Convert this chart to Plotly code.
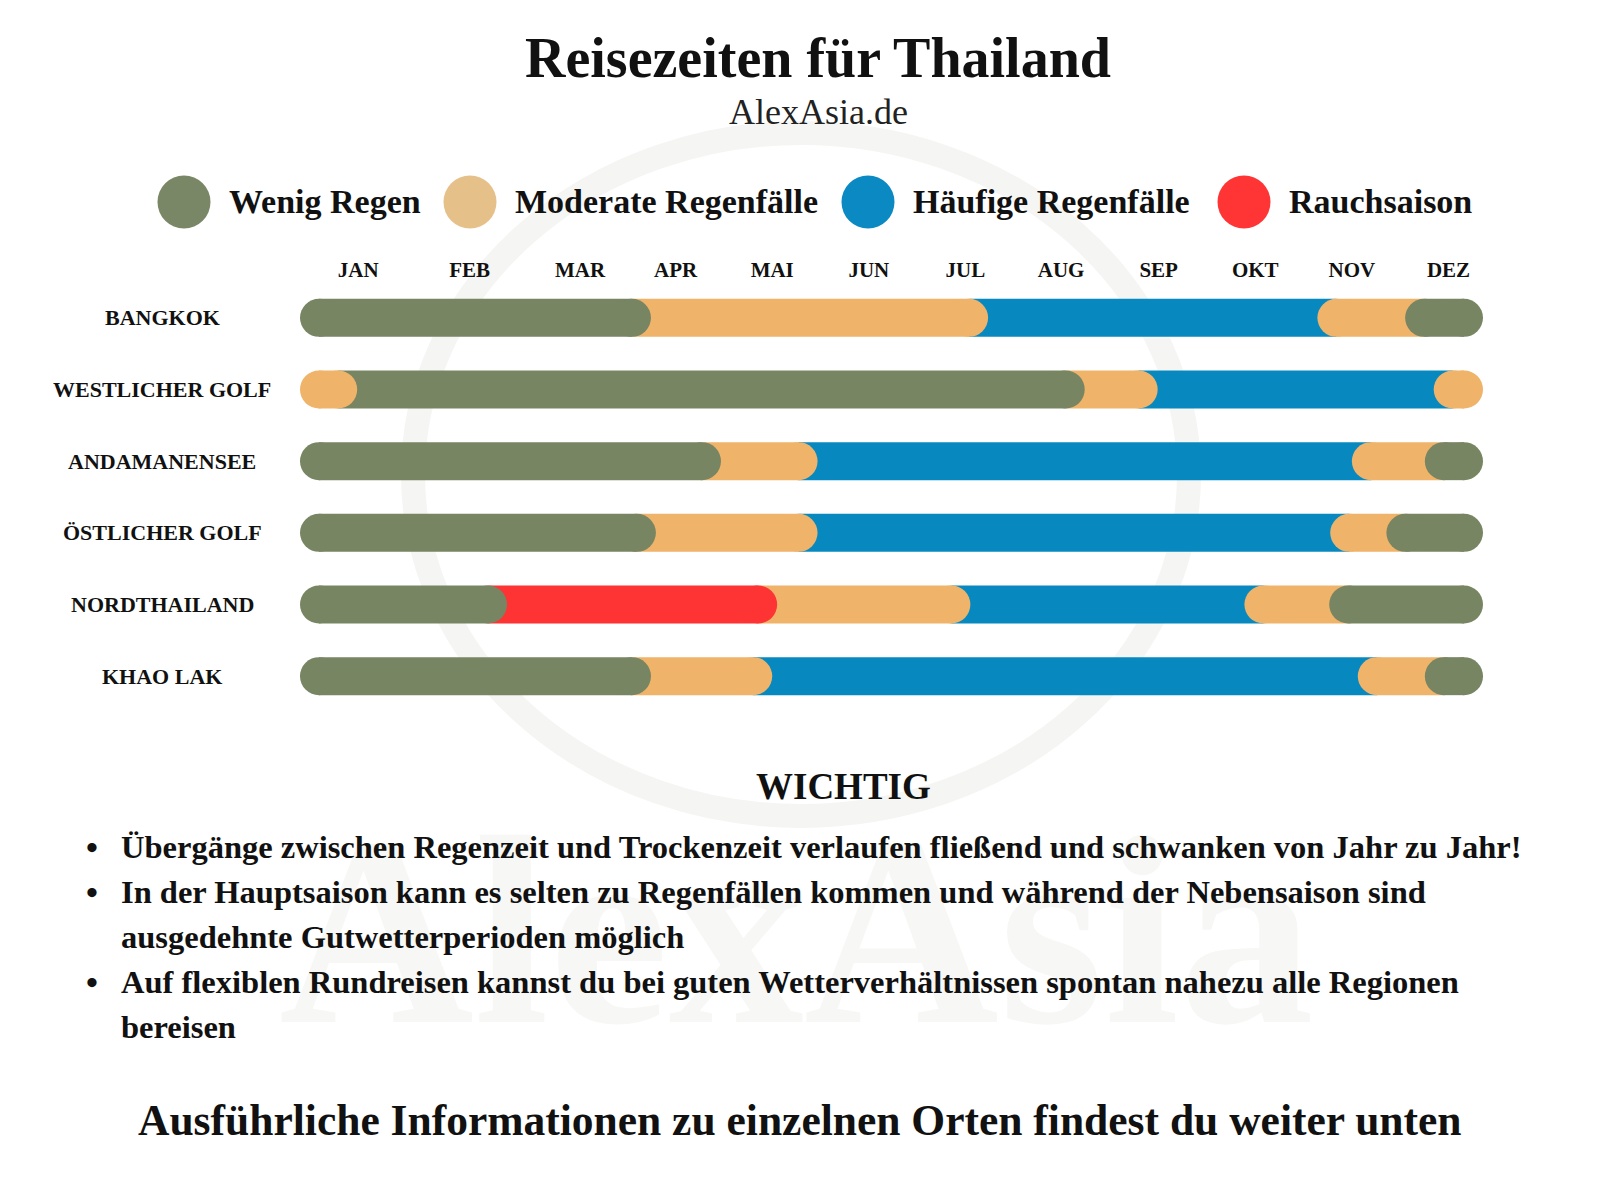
import plotly.graph_objects as go

# ---------------- data ----------------
regions = ["BANGKOK", "WESTLICHER GOLF", "ANDAMANENSEE", "ÖSTLICHER GOLF", "NORDTHAILAND", "KHAO LAK"]

months = ["JAN", "FEB", "MAR", "APR", "MAI", "JUN", "JUL", "AUG", "SEP", "OKT", "NOV", "DEZ"]
month_label_pos = [0.59, 1.72, 2.84, 3.81, 4.79, 5.77, 6.75, 7.72, 8.71, 9.69, 10.67, 11.65]

# category sequence and boundaries (in months, 0 = start of January, 12 = end of December)
bangkok_cats = ["wenig", "moderat", "haeufig", "moderat", "wenig"]
bangkok_bounds = [0, 3.56, 6.98, 10.32, 11.21, 12]

westgolf_cats = ["moderat", "wenig", "moderat", "haeufig", "moderat"]
westgolf_bounds = [0, 0.58, 7.96, 8.70, 11.50, 12]

andaman_cats = ["wenig", "moderat", "haeufig", "moderat", "wenig"]
andaman_bounds = [0, 4.27, 5.25, 10.67, 11.41, 12]

ostgolf_cats = ["wenig", "moderat", "haeufig", "moderat", "wenig"]
ostgolf_bounds = [0, 3.61, 5.25, 10.45, 11.02, 12]

nord_cats = ["wenig", "rauch", "moderat", "haeufig", "moderat", "wenig"]
nord_bounds = [0, 2.10, 4.84, 6.80, 9.58, 10.44, 12]

khaolak_cats = ["wenig", "moderat", "haeufig", "moderat", "wenig"]
khaolak_bounds = [0, 3.56, 4.79, 10.73, 11.41, 12]

legend_keys = ["wenig", "moderat", "haeufig", "rauch"]
legend_names = ["Wenig Regen", "Moderate Regenfälle", "Häufige Regenfälle", "Rauchsaison"]

bullets = [
    ["Übergänge zwischen Regenzeit und Trockenzeit verlaufen fließend und schwanken von Jahr zu Jahr!"],
    ["In der Hauptsaison kann es selten zu Regenfällen kommen und während der Nebensaison sind",
     "ausgedehnte Gutwetterperioden möglich"],
    ["Auf flexiblen Rundreisen kannst du bei guten Wetterverhältnissen spontan nahezu alle Regionen",
     "bereisen"],
]

# ---------------- style ----------------
bar_colors = {"wenig": "#778563", "moderat": "#F0B36A", "haeufig": "#0789C0", "rauch": "#FE3333"}
legend_colors = {"wenig": "#7A8766", "moderat": "#E6C089", "haeufig": "#0B89C3", "rauch": "#FF3434"}
FONT = "Liberation Serif"
W, H = 1600, 1200
L, R, T, B = 300, 117, 282, 488
PW, PH = W - L - R, H - T - B
BAR_PX = 38
ROW_PX = PH / len(regions)
r = (BAR_PX / 2) / (PW / 12)          # cap radius in month units
bar_w = BAR_PX / ROW_PX                # bar thickness in row units


def X(px):
    return (px - L) / PW


def Y(py):
    return (H - B - py) / PH


rows = [
    (bangkok_cats, bangkok_bounds),
    (westgolf_cats, westgolf_bounds),
    (andaman_cats, andaman_bounds),
    (ostgolf_cats, ostgolf_bounds),
    (nord_cats, nord_bounds),
    (khaolak_cats, khaolak_bounds),
]

rect = {k: {"base": [], "len": [], "y": []} for k in bar_colors}
caps = {k: {"x": [], "y": []} for k in bar_colors}

for ri, (cats, bounds) in enumerate(rows):
    base_idx = cats.index("haeufig")
    n = len(cats)
    for i, c in enumerate(cats):
        s, e = bounds[i], bounds[i + 1]
        left_top = (i == 0) or (i > base_idx)
        right_top = (i == n - 1) or (i < base_idx)
        a = s + r if left_top else s - r
        b = e - r if right_top else e + r
        rect[c]["base"].append(a)
        rect[c]["len"].append(b - a)
        rect[c]["y"].append(ri)
        if left_top:
            caps[c]["x"].append(s + r)
            caps[c]["y"].append(ri)
        if right_top:
            caps[c]["x"].append(e - r)
            caps[c]["y"].append(ri)

fig = go.Figure()
for c in bar_colors:
    fig.add_trace(go.Bar(
        orientation="h", base=rect[c]["base"], x=rect[c]["len"], y=rect[c]["y"],
        width=bar_w, marker=dict(color=bar_colors[c], line=dict(width=0)),
        showlegend=False, hoverinfo="skip"))
for c in bar_colors:
    fig.add_trace(go.Scatter(
        x=caps[c]["x"], y=caps[c]["y"], mode="markers",
        marker=dict(size=BAR_PX, color=bar_colors[c], line=dict(width=0)),
        showlegend=False, hoverinfo="skip", cliponaxis=False))

ann = []
shapes = []

# watermark
shapes.append(dict(type="circle", xref="paper", yref="paper", layer="below",
                   x0=X(413), x1=X(1189), y0=Y(816), y1=Y(133),
                   line=dict(color="#F5F5F3", width=24)))
ann.append(dict(text="<b>AlexAsia</b>", xref="paper", yref="paper", x=X(796), y=Y(930),
                xanchor="center", yanchor="middle", showarrow=False,
                font=dict(family=FONT, size=270, color="#F7F7F5")))

# title / subtitle
ann.append(dict(text="<b>Reisezeiten für Thailand</b>", xref="paper", yref="paper",
                x=X(818), y=Y(58), xanchor="center", yanchor="middle", showarrow=False,
                font=dict(family=FONT, size=56, color="#111111")))
ann.append(dict(text="AlexAsia.de", xref="paper", yref="paper",
                x=X(818), y=Y(112), xanchor="center", yanchor="middle", showarrow=False,
                font=dict(family=FONT, size=36, color="#222222")))

# legend
leg_cx = [184, 470, 868, 1244]
leg_cy = 202
for k, name, cx in zip(legend_keys, legend_names, leg_cx):
    shapes.append(dict(type="circle", xref="paper", yref="paper",
                       xsizemode="pixel", ysizemode="pixel",
                       xanchor=X(cx), yanchor=Y(leg_cy),
                       x0=-26.5, x1=26.5, y0=-26.5, y1=26.5,
                       fillcolor=legend_colors[k], line=dict(width=0)))
    ann.append(dict(text=f"<b>{name}</b>", xref="paper", yref="paper",
                    x=X(cx + 43), y=Y(leg_cy), xanchor="left", yanchor="middle",
                    showarrow=False, font=dict(family=FONT, size=34, color="#111111")))

# row labels
for ri, name in enumerate(regions):
    ann.append(dict(text=f"<b>{name}</b>", xref="paper", yref="y",
                    x=X(162), y=ri, xanchor="center", yanchor="middle", showarrow=False,
                    font=dict(family=FONT, size=22, color="#111111")))

# WICHTIG + bullets
ann.append(dict(text="<b>WICHTIG</b>", xref="paper", yref="paper", x=X(843), y=Y(786),
                xanchor="center", yanchor="middle", showarrow=False,
                font=dict(family=FONT, size=37, color="#111111")))
line_y = 847
for item in bullets:
    ann.append(dict(text="<b>•</b>", xref="paper", yref="paper", x=X(92), y=Y(line_y),
                    xanchor="center", yanchor="middle", showarrow=False,
                    font=dict(family=FONT, size=34, color="#111111")))
    for ln in item:
        ann.append(dict(text=f"<b>{ln}</b>", xref="paper", yref="paper", x=X(119), y=Y(line_y),
                        xanchor="left", yanchor="middle", showarrow=False,
                        font=dict(family=FONT, size=32.5, color="#111111")))
        line_y += 45

ann.append(dict(text="<b>Ausführliche Informationen zu einzelnen Orten findest du weiter unten</b>",
                xref="paper", yref="paper", x=X(800), y=Y(1120),
                xanchor="center", yanchor="middle", showarrow=False,
                font=dict(family=FONT, size=43.5, color="#111111")))

fig.update_layout(
    width=W, height=H,
    margin=dict(l=L, r=R, t=T, b=B),
    paper_bgcolor="white", plot_bgcolor="rgba(0,0,0,0)",
    barmode="overlay",
    annotations=ann, shapes=shapes,
    xaxis=dict(range=[0, 12], side="top", tickmode="array",
               tickvals=month_label_pos, ticktext=[f"<b>{m}</b>" for m in months],
               tickfont=dict(family=FONT, size=21, color="#111111"),
               showgrid=False, zeroline=False, showline=False, ticks="", fixedrange=True),
    yaxis=dict(range=[len(regions) - 0.5, -0.5], showticklabels=False,
               showgrid=False, zeroline=False, showline=False, ticks="", fixedrange=True),
)

fig.write_html("out.html")
